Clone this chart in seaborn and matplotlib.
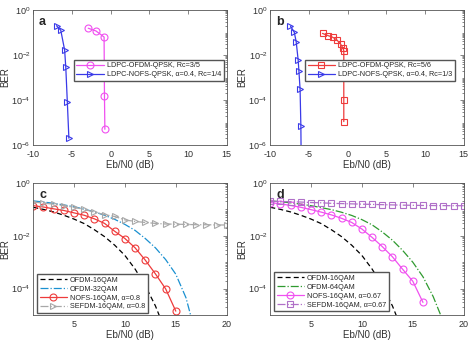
import numpy as np
import seaborn as sns
import matplotlib
import matplotlib.pyplot as plt
from matplotlib.ticker import FixedLocator, LogLocator, NullFormatter

# Use non-interactive backend
matplotlib.use("Agg")

# ---------------------------------------------------------------------------
# Data
# ---------------------------------------------------------------------------
# Panel a
a_ofdm_x = [-2.9, -1.9, -0.85, -0.8, -0.75]
a_ofdm_ber = [0.155, 0.117, 0.063, 1.5e-4, 5e-6]
a_nofs_x = [-7.0, -6.45, -5.95, -5.8, -5.6, -5.4]
a_nofs_ber = [0.2, 0.126, 0.0166, 2.8e-3, 7.9e-5, 2e-6]

# Panel b
b_ofdm_x = [-3.25, -2.5, -1.95, -1.4, -0.9, -0.6, -0.5, -0.5, -0.5]
b_ofdm_ber = [0.091, 0.072, 0.062, 0.047, 0.03, 0.02, 0.0155, 1e-4, 1.1e-5]
b_nofs_x = [-7.4, -6.9, -6.65, -6.4, -6.3, -6.15, -6.05, -6.0]
b_nofs_ber = [0.195, 0.102, 0.038, 6e-3, 1.9e-3, 3e-4, 7.2e-6, 1e-7]

# Panel c / d (Eb/N0 in dB)
ebn0_16qam = list(range(1, 15))
ofdm_16qam = [0.12, 0.1, 0.08, 0.06, 0.043, 0.029, 0.017, 0.0093, 0.0044,
              0.0018, 5.5e-4, 1.3e-4, 2.2e-5, 2.4e-6]

ebn0_32qam = list(range(1, 18))
ofdm_32qam = [0.21, 0.19, 0.17, 0.148, 0.126, 0.102, 0.081, 0.06, 0.042,
              0.027, 0.016, 7.9e-3, 3.5e-3, 1.26e-3, 3.5e-4, 4.5e-5, 1.6e-6]

ebn0_nofs08 = list(range(1, 16))
nofs_08 = [0.138, 0.123, 0.105, 0.091, 0.074, 0.06, 0.044, 0.0295, 0.0148,
           7.9e-3, 3.5e-3, 1.2e-3, 3.6e-4, 9.8e-5, 1.4e-5]

ebn0_sefdm = list(range(1, 21))
sefdm_08 = [0.19, 0.174, 0.158, 0.138, 0.12, 0.1, 0.079, 0.063, 0.054, 0.04,
            0.035, 0.032, 0.0295, 0.028, 0.0275, 0.027, 0.0263, 0.0263,
            0.0257, 0.0257]

ebn0_64qam = list(range(1, 19))
ofdm_64qam = [0.21, 0.195, 0.178, 0.158, 0.138, 0.117, 0.098, 0.078, 0.059,
              0.041, 0.026, 0.014, 6.8e-3, 2.8e-3, 1e-3, 2.8e-4, 5e-5, 5.6e-6]

ebn0_nofs067 = list(range(1, 17))
nofs_067 = [0.182, 0.162, 0.141, 0.12, 0.098, 0.079, 0.062, 0.046, 0.032,
            0.018, 8.7e-3, 3.9e-3, 1.6e-3, 5.4e-4, 1.9e-4, 3e-5]

sefdm_067 = [0.204, 0.2, 0.195, 0.19, 0.182, 0.178, 0.17, 0.166, 0.162, 0.158,
             0.155, 0.151, 0.148, 0.145, 0.143, 0.141, 0.14, 0.139, 0.138, 0.138]

# ---------------------------------------------------------------------------
# Style
# ---------------------------------------------------------------------------
sns.set_style("white")
plt.rcParams["font.family"] = ["Liberation Sans", "DejaVu Sans"]
plt.rcParams["mathtext.default"] = "regular"
plt.rcParams["axes.unicode_minus"] = False
plt.rcParams["font.size"] = 7

MAGENTA = "#f050f0"
BLUE = "#3a3ae8"
RED = "#ee3b3b"
GRAY = "#a8a8a8"
CYAN = "#1a90d0"
GREEN = "#2f9a2f"
PURPLE = "#b070c8"
AXCOL = "#555555"

fig = plt.figure(figsize=(4.74, 3.42), dpi=100)
W, H = 474, 342


def add_axes(left, top, right, bottom):
    return fig.add_axes([left / W, 1 - bottom / H, (right - left) / W, (bottom - top) / H])


ax_a = add_axes(33.3, 10, 226.7, 145)
ax_b = add_axes(270.3, 10, 463.7, 145)
ax_c = add_axes(33.3, 183, 226.7, 315)
ax_d = add_axes(270.3, 183, 463.7, 315)


def line(ax, x, y, color, label, marker=None, ls="-", ms=5):
    sns.lineplot(x=x, y=y, ax=ax, color=color, label=label, marker=marker,
                 linestyle=ls, linewidth=0.9, markersize=ms,
                 markerfacecolor="none", markeredgecolor=color,
                 markeredgewidth=0.8, estimator=None, sort=False)


def style(ax, letter, xlim, xticks, ylim, yticks):
    ax.set_yscale("log")
    ax.set_xlim(*xlim)
    ax.set_ylim(*ylim)
    ax.set_xticks(xticks)
    ax.yaxis.set_major_locator(FixedLocator(yticks))
    ax.yaxis.set_minor_locator(LogLocator(base=10, subs=np.arange(1, 10), numticks=20))
    ax.yaxis.set_minor_formatter(NullFormatter())
    ax.tick_params(which="both", direction="in", top=True, right=True,
                   colors=AXCOL, labelcolor="#303030", labelsize=6.5, width=0.5)
    ax.tick_params(which="major", length=3)
    ax.tick_params(axis="x", which="major", pad=3.5)
    ax.tick_params(axis="y", which="major", pad=2)
    ax.tick_params(which="minor", length=1.5)
    for sp in ax.spines.values():
        sp.set_color(AXCOL)
        sp.set_linewidth(0.6)
    ax.set_xlabel("Eb/N0 (dB)", fontsize=7, color="#303030", labelpad=1)
    ax.set_ylabel("BER", fontsize=7, color="#303030", labelpad=1)
    ax.text(0.03, 0.91, letter, transform=ax.transAxes, fontsize=9,
            fontweight="bold", va="center", ha="left")


def legend(ax, anchor, loc):
    ax.legend(loc=loc, bbox_to_anchor=anchor, fontsize=5.2, frameon=True,
              fancybox=False, edgecolor=AXCOL, framealpha=1, handlelength=3.8,
              borderaxespad=0, borderpad=0.35, labelspacing=0.25, handletextpad=0.4)


# Panel a
line(ax_a, a_ofdm_x, a_ofdm_ber, MAGENTA, "LDPC-OFDM-QPSK, Rc=3/5", marker="o")
line(ax_a, a_nofs_x, a_nofs_ber, BLUE, "LDPC-NOFS-QPSK, α=0.4, Rc=1/4", marker=">")
style(ax_a, "a", (-10, 15), [-10, -5, 0, 5, 10, 15], (1e-6, 1), [1e-6, 1e-4, 1e-2, 1])
legend(ax_a, (0.21, 0.475), "lower left")

# Panel b
line(ax_b, b_ofdm_x, b_ofdm_ber, RED, "LDPC-OFDM-QPSK, Rc=5/6", marker="s", ms=4.5)
line(ax_b, b_nofs_x, b_nofs_ber, BLUE, "LDPC-NOFS-QPSK, α=0.4, Rc=1/3", marker=">")
style(ax_b, "b", (-10, 15), [-10, -5, 0, 5, 10, 15], (1e-6, 1), [1e-6, 1e-4, 1e-2, 1])
legend(ax_b, (0.18, 0.475), "lower left")

# Panel c
line(ax_c, ebn0_16qam, ofdm_16qam, "black", "OFDM-16QAM", ls=(0, (4, 2.5)))
line(ax_c, ebn0_32qam, ofdm_32qam, CYAN, "OFDM-32QAM", ls="-.")
line(ax_c, ebn0_nofs08, nofs_08, RED, "NOFS-16QAM, α=0.8", marker="o")
line(ax_c, ebn0_sefdm, sefdm_08, GRAY, "SEFDM-16QAM, α=0.8", marker=">", ls="-.")
style(ax_c, "c", (1, 20), [5, 10, 15, 20], (1e-5, 1), [1e-4, 1e-2, 1])
legend(ax_c, (0.02, 0.015), "lower left")

# Panel d
line(ax_d, ebn0_16qam, ofdm_16qam, "black", "OFDM-16QAM", ls=(0, (4, 2.5)))
line(ax_d, ebn0_64qam, ofdm_64qam, GREEN, "OFDM-64QAM", ls="-.")
line(ax_d, ebn0_nofs067, nofs_067, MAGENTA, "NOFS-16QAM, α=0.67", marker="o")
line(ax_d, ebn0_sefdm, sefdm_067, PURPLE, "SEFDM-16QAM, α=0.67", marker="s", ls="-.", ms=4.5)
style(ax_d, "d", (1, 20), [5, 10, 15, 20], (1e-5, 1), [1e-4, 1e-2, 1])
legend(ax_d, (0.02, 0.03), "lower left")

fig.savefig("out.png", dpi=100)
